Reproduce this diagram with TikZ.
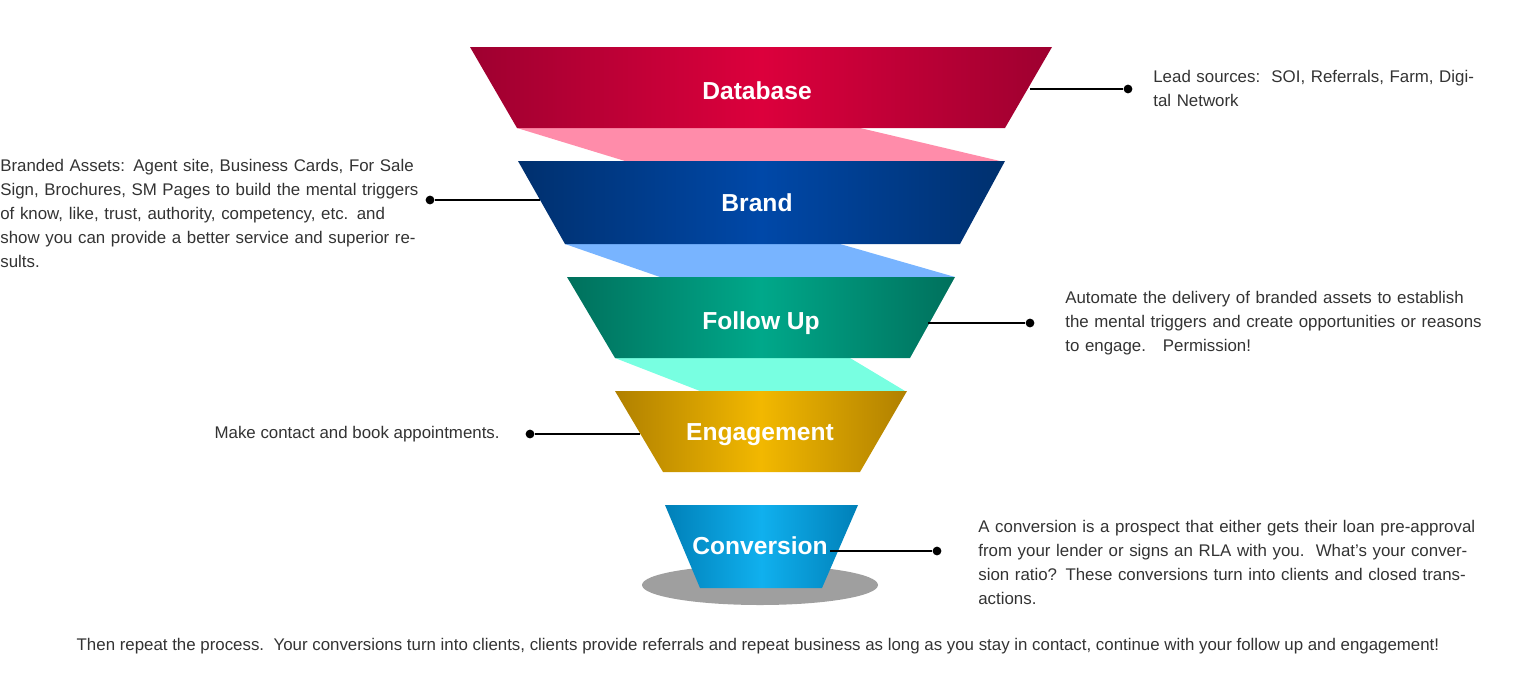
\documentclass[tikz,border=0pt]{standalone}
\usepackage{fontspec}
\setmainfont{Liberation Sans}
\usetikzlibrary{positioning}
\definecolor{dbdark}{HTML}{9E0030}
\definecolor{dbmid}{HTML}{DC003C}
\definecolor{brdark}{HTML}{00306E}
\definecolor{brmid}{HTML}{0048A8}
\definecolor{fudark}{HTML}{00705C}
\definecolor{fumid}{HTML}{00A88A}
\definecolor{endark}{HTML}{B08000}
\definecolor{enmid}{HTML}{F2B800}
\definecolor{codark}{HTML}{0080B8}
\definecolor{comid}{HTML}{10B0EE}
\definecolor{pinkband}{HTML}{FF8CAA}
\definecolor{blueband}{HTML}{78B4FF}
\definecolor{tealband}{HTML}{78FFE1}
\tikzset{
	seg/.style args={#1/#2}{shading=axis,left color=#1,right color=#1,middle color=#2,shading angle=90},
	band/.style={fill=#1},
	title/.style={text=white,font=\fontsize{14}{16}\selectfont\bfseries},
	note/.style={align=left,font=\fontsize{9.6}{13.6}\selectfont,text=black!80,inner sep=0pt},
	dot/.style={circle,fill=black,inner sep=0pt,minimum size=5pt},
	lead/.style={draw=black,line width=0.6pt}
}
\begin{document}
\begin{tikzpicture}[x=0.02cm,y=-0.02cm]
	\useasboundingbox (0,0) rectangle (1524,683);

	% bands between the segments
	\fill[band=pinkband] (517,128) -- (860,128) -- (1000,161) -- (625,161) -- cycle;
	\fill[band=blueband] (565,244) -- (840,244) -- (955,277) -- (660,277) -- cycle;
	\fill[band=tealband] (615,358) -- (850,358) -- (905,391) -- (700,391) -- cycle;

	% shadow
	\fill[gray!75] (760,585) ellipse (118 and 20);

	% funnel segments
	\shade[seg=dbdark/dbmid] (470,47) -- (1052,47) -- (1005,128) -- (517,128) -- cycle;
	\shade[seg=brdark/brmid] (518,161) -- (1005,161) -- (960,244) -- (565,244) -- cycle;
	\shade[seg=fudark/fumid] (567,277) -- (955,277) -- (910,358) -- (615,358) -- cycle;
	\shade[seg=endark/enmid] (615,391) -- (907,391) -- (860,472) -- (663,472) -- cycle;
	\shade[seg=codark/comid] (665,505) -- (858,505) -- (822,588) -- (700,588) -- cycle;

	\node[title] (Tdb) at (757,91) {Database};
	\node[title] (Tbr) at (757,203) {Brand};
	\node[title] (Tfu) at (761,323) {Follow Up};
	\node[title] (Ten) at (760,435) {Engagement};
	\node[title] (Tco) at (760,546) {Conversion};

	% edge points
	\coordinate (Edb) at (1030,89);
	\coordinate (Ebr) at (540,200);
	\coordinate (Efu) at (928,323);
	\coordinate (Een) at (640,434);
	\coordinate (Eco) at (830,551);

	\node[dot] (Ddb) at (1128,89) {};
	\node[dot] (Dbr) at (430,200) {};
	\node[dot] (Dfu) at (1030,323) {};
	\node[dot] (Den) at (530,434) {};
	\node[dot] (Dco) at (937,551) {};

	\draw[lead] (Edb) -- (Ddb);
	\draw[lead] (Dbr) -- (Ebr);
	\draw[lead] (Efu) -- (Dfu);
	\draw[lead] (Den) -- (Een);
	\draw[lead] (Eco) -- (Dco);

	% notes
	\node[note,anchor=north west,text width=6.6cm] (Ndb) at (1153,70) {Lead sources:\ \ SOI, Referrals, Farm, Digital Network};
	\node[note,anchor=north west,text width=8.4cm] (Nbr) at (0,159) {Branded Assets: Agent site, Business Cards, For Sale Sign, Brochures, SM Pages to build the mental triggers of know, like, trust, authority, competency, etc. and show you can provide a better service and superior results.};
	\node[note,anchor=north west,text width=8.4cm] (Nfu) at (1065,291) {Automate the delivery of branded assets to establish the mental triggers and create opportunities or reasons to engage.\ \ \ Permission!};
	\node[note,anchor=east] (Nen) at (500,434) {Make contact and book appointments.};
	\node[note,anchor=north west,text width=10cm] (Nco) at (978,520) {A conversion is a prospect that either gets their loan pre-approval from your lender or signs an RLA with you.\ \ What’s your conversion ratio? These conversions turn into clients and closed transactions.};
	\node[note] (Nend) at (758,646) {Then repeat the process.\ \ Your conversions turn into clients, clients provide referrals and repeat business as long as you stay in contact, continue with your follow up and engagement!};
\end{tikzpicture}
\end{document}
